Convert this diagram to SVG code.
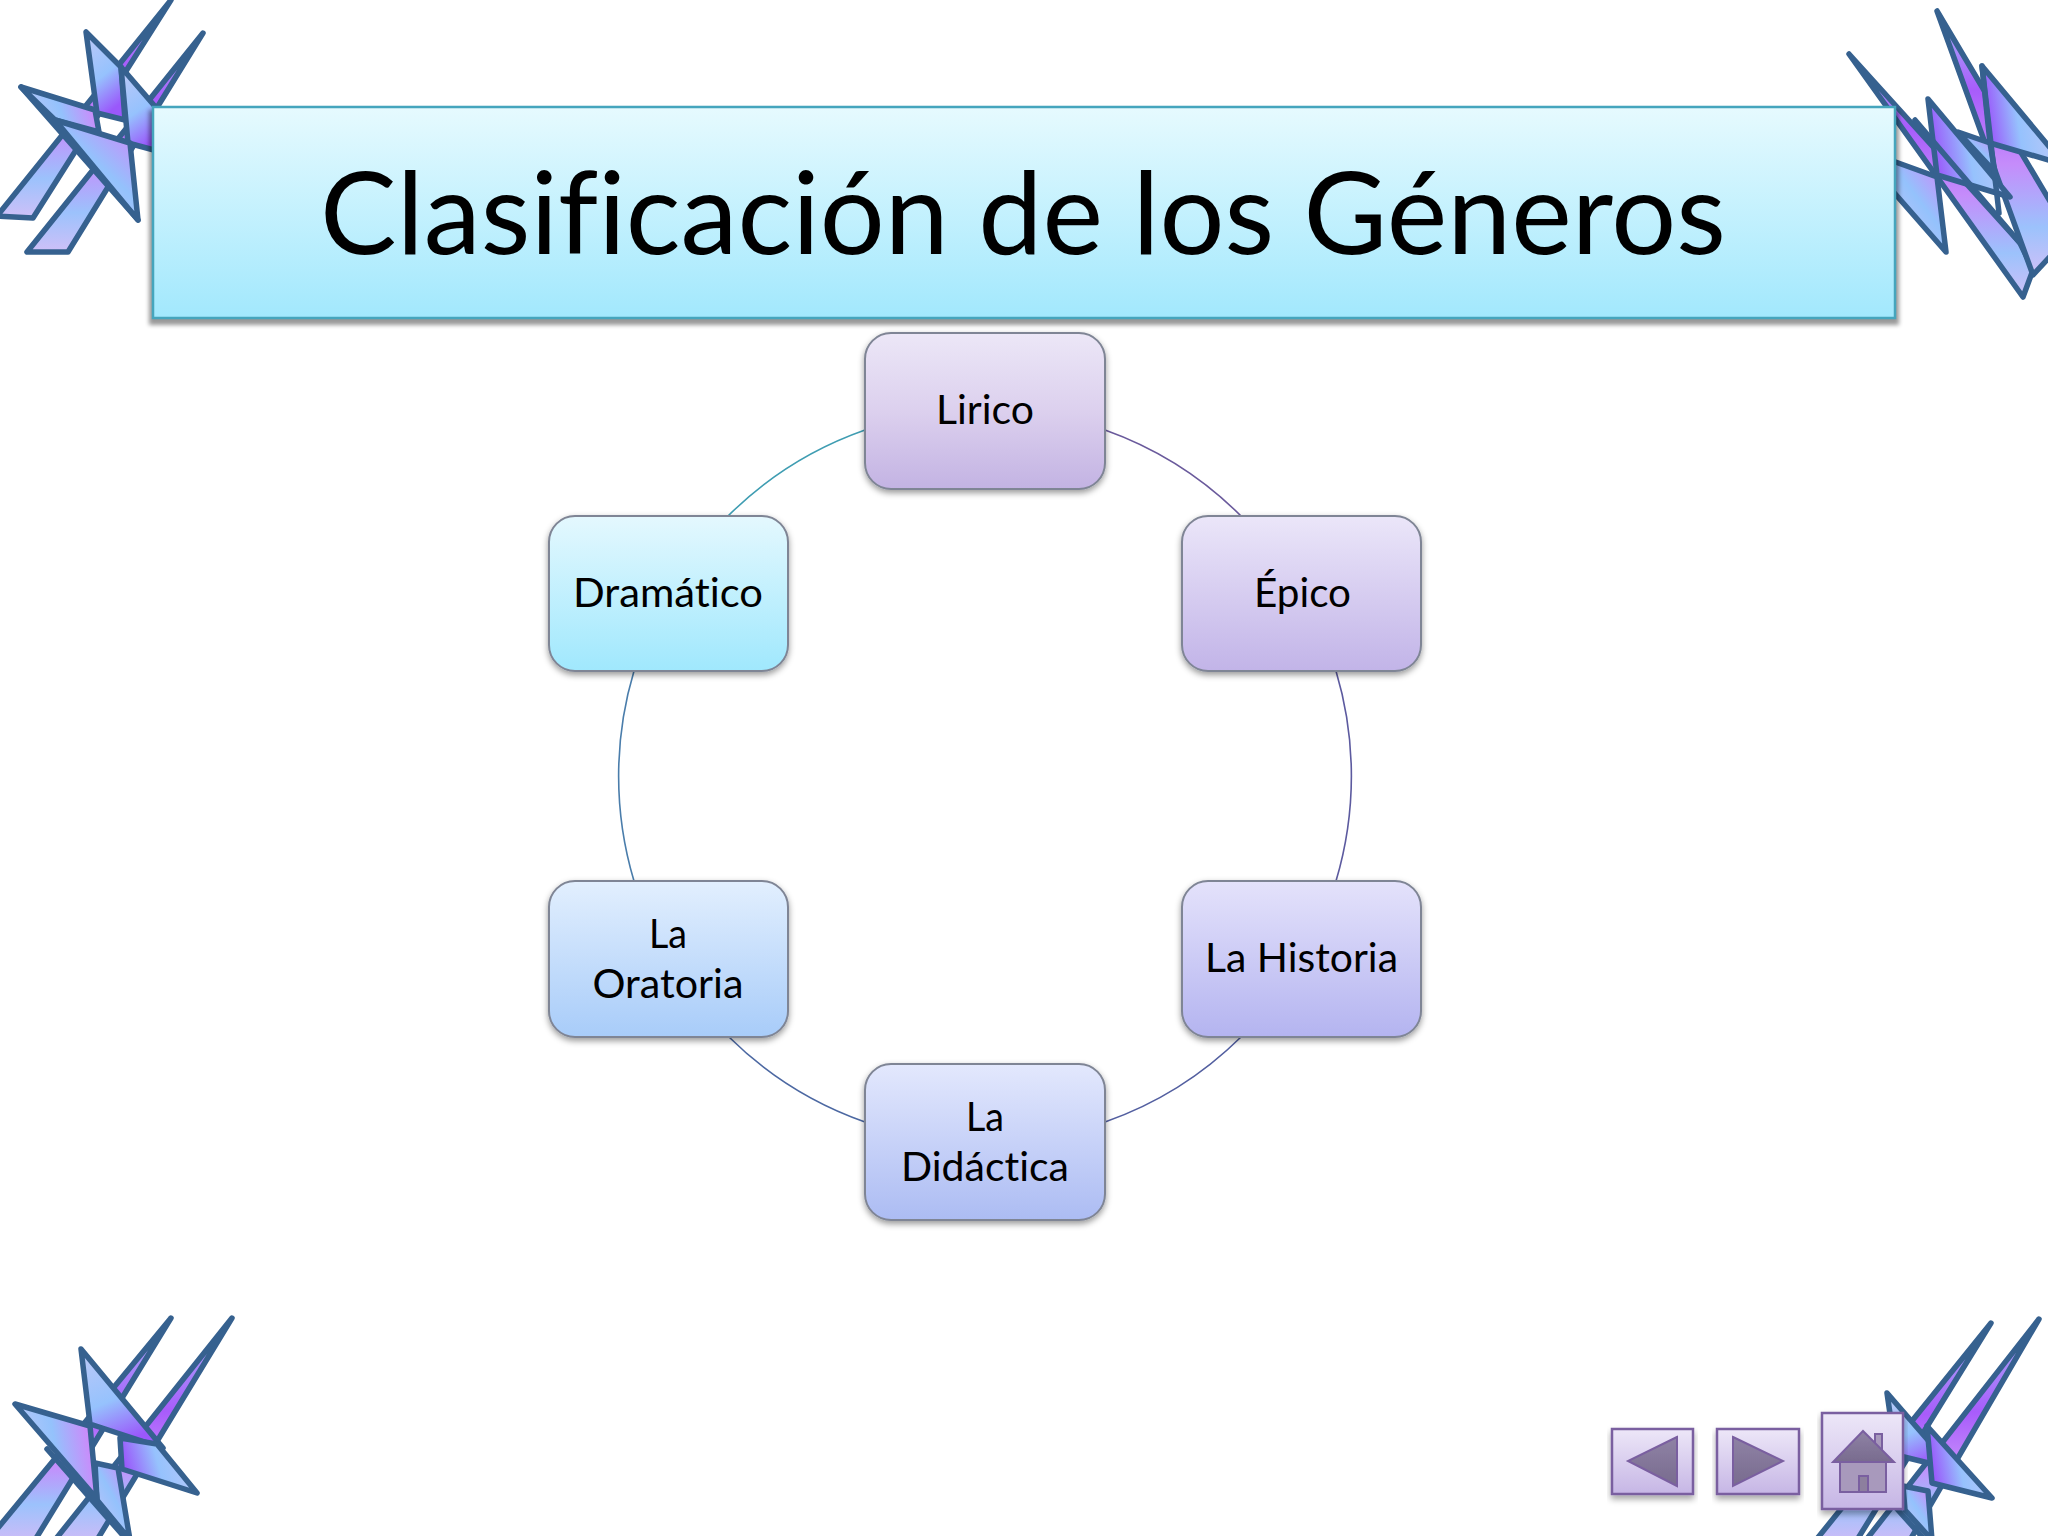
<svg xmlns="http://www.w3.org/2000/svg" width="2048" height="1536" viewBox="0 0 2048 1536">
<style>
text{font-variant-ligatures:none}
.s{stroke:#36618f;stroke-width:5.5;stroke-linejoin:round;stroke-linecap:round}
.strip{fill:url(#gStrip)}
.stripB{fill:url(#gStripB)}
.bp{fill:url(#gDeep)}
.bq{fill:url(#gPink)}
.bl{fill:url(#gPinkL)}
.br{fill:url(#gDeepR)}
.node{stroke:#7f8595;stroke-width:2;filter:url(#sh)}
.btn{stroke:#7a5fa0;stroke-width:2.5}
.ico{stroke:#7a5fa0;stroke-width:2}
.t{font-family:"Lato","Liberation Sans",sans-serif;font-size:40px;fill:#000}
.arc{fill:none;stroke-width:1.6}
</style>
<defs>
<linearGradient id="gStrip" x1=".5" y1="0" x2=".5" y2="1"><stop offset="0" stop-color="#a9b8fa"/><stop offset=".3" stop-color="#a85cfb"/><stop offset=".58" stop-color="#c58cfb"/><stop offset=".82" stop-color="#9cc2fc"/><stop offset="1" stop-color="#cfc0f8"/></linearGradient>
<linearGradient id="gStripB" x1=".5" y1="0" x2=".5" y2="1"><stop offset="0" stop-color="#a9b8fa"/><stop offset=".42" stop-color="#a85cfb"/><stop offset=".66" stop-color="#c58cfb"/><stop offset=".84" stop-color="#9cc2fc"/><stop offset="1" stop-color="#cbbcf8"/></linearGradient>
<linearGradient id="gDeep" x1=".25" y1="0" x2=".6" y2="1"><stop offset="0" stop-color="#b8c8f8"/><stop offset=".5" stop-color="#96c2fd"/><stop offset=".92" stop-color="#9a58fb"/></linearGradient>
<linearGradient id="gPink" x1="1" y1="0" x2=".2" y2="1"><stop offset=".1" stop-color="#c98cfb"/><stop offset=".5" stop-color="#94c2fc"/><stop offset="1" stop-color="#c2c2f8"/></linearGradient>
<linearGradient id="gPinkL" x1="1" y1=".4" x2="0" y2=".6"><stop offset=".1" stop-color="#c98cfb"/><stop offset=".5" stop-color="#94c2fc"/><stop offset="1" stop-color="#bcc8f8"/></linearGradient>
<linearGradient id="gDeepR" x1="0" y1=".6" x2="1" y2=".4"><stop offset=".08" stop-color="#9a58fb"/><stop offset=".5" stop-color="#96c2fd"/><stop offset="1" stop-color="#b8c8f8"/></linearGradient>
<linearGradient id="gTitle" x1="0" y1="0" x2="0" y2="1"><stop offset="0" stop-color="#e6fafe"/><stop offset="1" stop-color="#a2e8fd"/></linearGradient>
<linearGradient id="gLir" x1="0" y1="0" x2="0" y2="1"><stop offset="0" stop-color="#ece7f7"/><stop offset=".5" stop-color="#dcd0ee"/><stop offset="1" stop-color="#c3b3e3"/></linearGradient>
<linearGradient id="gEpi" x1="0" y1="0" x2="0" y2="1"><stop offset="0" stop-color="#ebe6f9"/><stop offset="1" stop-color="#c2b4e8"/></linearGradient>
<linearGradient id="gHis" x1="0" y1="0" x2="0" y2="1"><stop offset="0" stop-color="#e4e2fb"/><stop offset="1" stop-color="#b4b4f0"/></linearGradient>
<linearGradient id="gDid" x1="0" y1="0" x2="0" y2="1"><stop offset="0" stop-color="#e3e8fd"/><stop offset="1" stop-color="#acbcf3"/></linearGradient>
<linearGradient id="gOra" x1="0" y1="0" x2="0" y2="1"><stop offset="0" stop-color="#e2effe"/><stop offset="1" stop-color="#a8ccf9"/></linearGradient>
<linearGradient id="gDra" x1="0" y1="0" x2="0" y2="1"><stop offset="0" stop-color="#e4f8fe"/><stop offset="1" stop-color="#a0e8fd"/></linearGradient>
<linearGradient id="gBtn" x1="0" y1="0" x2="0" y2="1"><stop offset="0" stop-color="#ede7f8"/><stop offset="1" stop-color="#c6b6e5"/></linearGradient>
<linearGradient id="gIco" x1="0" y1="0" x2="0" y2="1"><stop offset="0" stop-color="#8f82a5"/><stop offset="1" stop-color="#786b8e"/></linearGradient>
<filter id="sh" x="-10%" y="-10%" width="120%" height="125%"><feDropShadow dx="0" dy="3" stdDeviation="3" flood-color="#000" flood-opacity=".4"/></filter>
<filter id="shB" x="-5%" y="-10%" width="110%" height="130%"><feDropShadow dx="0" dy="4" stdDeviation="3" flood-color="#000" flood-opacity=".35"/></filter>
<filter id="blur" x="-2%" y="-5%" width="104%" height="110%"><feGaussianBlur stdDeviation="2"/></filter>
</defs>
<rect width="2048" height="1536" fill="#fff"/>

<g id="star-tl" class="s">
<polygon class="strip" points="171,0 -3,216 33,218"/>
<polygon class="strip" points="203,33 27,252 68,252"/>
<polygon class="bp" points="86,32 97,113 125,120 121,67"/>
<polygon class="bp" points="121,67 128,143 165,153 165,118"/>
<polygon class="bl" points="21,87 95,110 99,132 55,120"/>
<polygon class="bq" points="55,120 130,143 138,220"/>
<line x1="21" y1="87" x2="138" y2="220"/>
</g>
<g id="star-tr" class="s">
<polygon class="strip" points="1849,54 2023,297 2033,270 2020,243"/>
<polygon class="strip" points="1937,11 2033,275 2070,235"/>
<polygon class="bq" points="1958,132 1990,143 1995,172"/>
<polygon class="br" points="1982,66 2052,150 2052,161 1990,143"/>
<polygon class="br" points="1928,99 2010,197 1937,175"/>
<polygon class="bq" points="1890,160 1937,177 1946,252 1890,188"/>
<line x1="1915" y1="120" x2="2020" y2="243"/>
<line x1="1982" y1="66" x2="1999" y2="213"/>
</g>
<g id="star-bl" class="s">
<polygon class="stripB" points="171,1318 -12,1540 35,1540"/>
<polygon class="stripB" points="232,1318 55,1540 97,1540"/>
<polygon class="bq" points="95,1463 118,1468 130,1540 97,1500"/>
<polygon class="bp" points="81,1349 163,1448 90,1424"/>
<polygon class="br" points="120,1438 157,1444 197,1493 122,1469"/>
<polygon class="bl" points="15,1404 90,1426 97,1499"/>
<line x1="47" y1="1449" x2="127" y2="1540"/>
</g>
<g id="star-br" class="s">
<polygon class="stripB" points="1991,1323 1816,1540 1857,1540"/>
<polygon class="stripB" points="2039,1319 1866,1540 1910,1540"/>
<polygon class="bq" points="1903,1486 1928,1491 1932,1540 1905,1510"/>
<polygon class="bp" points="1887,1393 1953,1469 1896,1455"/>
<polygon class="br" points="1927,1426 1992,1498 1932,1483"/>
<line x1="1880" y1="1490" x2="1925" y2="1540"/>
</g>

<g id="title">
<rect x="149" y="110" width="1750" height="215" fill="#000" opacity=".4" filter="url(#blur)"/>
<rect x="153" y="107" width="1742" height="211" fill="url(#gTitle)" stroke="#45a5bd" stroke-width="2.5"/>
<text x="320" y="254" font-family="Lato,'Liberation Sans',sans-serif" font-size="114" fill="#000" textLength="1406" lengthAdjust="spacingAndGlyphs">Clasificación de los Géneros</text>
</g>

<g id="connectors">
<path class="arc" stroke="#6a5a9c" d="M1105,430 A366,366 0 0 1 1241,516"/>
<path class="arc" stroke="#5c5a9f" d="M1336,671 A366,366 0 0 1 1336,881"/>
<path class="arc" stroke="#535fa0" d="M1241,1037 A366,366 0 0 1 1105,1122"/>
<path class="arc" stroke="#4c68a2" d="M865,1122 A366,366 0 0 1 729,1037"/>
<path class="arc" stroke="#4a7dab" d="M634,881 A366,366 0 0 1 634,671"/>
<path class="arc" stroke="#3f9db2" d="M728,516 A366,366 0 0 1 865,430"/>
</g>

<g id="node-lirico">
<rect class="node" x="865" y="333" width="240" height="156" rx="26" fill="url(#gLir)"/>
<text class="t" x="936" y="424" textLength="98" lengthAdjust="spacingAndGlyphs">Lirico</text>
</g>
<g id="node-epico">
<rect class="node" x="1182" y="516" width="239" height="155" rx="26" fill="url(#gEpi)"/>
<text class="t" x="1254" y="607" textLength="97" lengthAdjust="spacingAndGlyphs">Épico</text>
</g>
<g id="node-historia">
<rect class="node" x="1182" y="881" width="239" height="156" rx="26" fill="url(#gHis)"/>
<text class="t" x="1205" y="972" textLength="193" lengthAdjust="spacingAndGlyphs">La Historia</text>
</g>
<g id="node-didactica">
<rect class="node" x="865" y="1064" width="240" height="156" rx="26" fill="url(#gDid)"/>
<text class="t" x="966" y="1131" textLength="38" lengthAdjust="spacingAndGlyphs">La</text>
<text class="t" x="901" y="1181" textLength="168" lengthAdjust="spacingAndGlyphs">Didáctica</text>
</g>
<g id="node-oratoria">
<rect class="node" x="549" y="881" width="239" height="156" rx="26" fill="url(#gOra)"/>
<text class="t" x="649" y="948" textLength="38" lengthAdjust="spacingAndGlyphs">La</text>
<text class="t" x="592.500" y="998" textLength="151" lengthAdjust="spacingAndGlyphs">Oratoria</text>
</g>
<g id="node-dramatico">
<rect class="node" x="549" y="516" width="239" height="155" rx="26" fill="url(#gDra)"/>
<text class="t" x="573" y="607" textLength="190" lengthAdjust="spacingAndGlyphs">Dramático</text>
</g>

<g id="btn-back" filter="url(#shB)">
<rect class="btn" x="1612" y="1429" width="81" height="65" fill="url(#gBtn)"/>
<polygon class="ico" points="1677,1437 1628,1461 1677,1486" fill="url(#gIco)"/>
</g>
<g id="btn-forward" filter="url(#shB)">
<rect class="btn" x="1717" y="1429" width="82" height="65" fill="url(#gBtn)"/>
<polygon class="ico" points="1733,1437 1783,1461 1733,1486" fill="url(#gIco)"/>
</g>
<g id="btn-home" filter="url(#shB)">
<rect class="btn" x="1822" y="1413" width="81" height="96" fill="url(#gBtn)"/>
<rect class="ico" x="1875" y="1434" width="7" height="17" fill="#a899bc"/>
<rect class="ico" x="1840" y="1462" width="46" height="30" fill="#a899bc"/>
<polygon class="ico" points="1863,1431 1833,1462 1894,1462" fill="url(#gIco)"/>
<rect class="ico" x="1859" y="1476" width="9" height="16" fill="#8d7f9e"/>
</g>
</svg>
